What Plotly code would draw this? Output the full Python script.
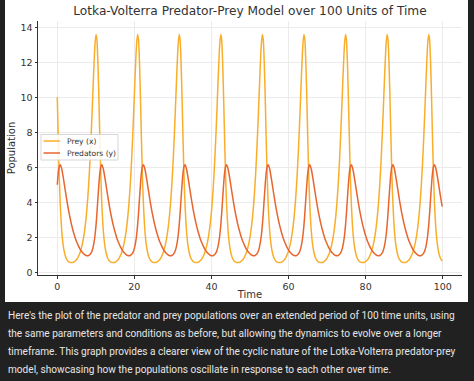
import plotly.graph_objects as go

# Sampling step in time units (one oscillation period of ~10.79 spans 43 samples)
TIME_STEP = 0.2509

# Prey population (x), one row per oscillation cycle
PREY = [
    10.00, 7.67, 5.60, 4.00, 2.88, 2.11, 1.59, 1.24, 1.00, 0.83, 0.72, 0.64, 0.59, 0.56, 0.55, 0.55, 0.56, 0.58, 0.62, 0.67, 0.73, 0.81, 0.92, 1.04, 1.20, 1.39, 1.63, 1.92, 2.27, 2.69, 3.22, 3.85, 4.61, 5.52, 6.58, 7.79, 9.13, 10.55, 11.92, 13.03, 13.59, 13.29, 12.00,
    10.00, 7.67, 5.60, 4.00, 2.88, 2.11, 1.59, 1.24, 1.00, 0.83, 0.72, 0.64, 0.59, 0.56, 0.55, 0.55, 0.56, 0.58, 0.62, 0.67, 0.73, 0.81, 0.92, 1.04, 1.20, 1.39, 1.63, 1.92, 2.27, 2.69, 3.22, 3.85, 4.61, 5.52, 6.58, 7.79, 9.13, 10.55, 11.92, 13.03, 13.59, 13.29, 12.00,
    10.00, 7.67, 5.60, 4.00, 2.88, 2.11, 1.59, 1.24, 1.00, 0.83, 0.72, 0.64, 0.59, 0.56, 0.55, 0.55, 0.56, 0.58, 0.62, 0.67, 0.73, 0.81, 0.92, 1.04, 1.20, 1.39, 1.63, 1.92, 2.27, 2.69, 3.22, 3.85, 4.61, 5.52, 6.58, 7.79, 9.13, 10.55, 11.92, 13.03, 13.59, 13.29, 12.00,
    10.00, 7.67, 5.60, 4.00, 2.88, 2.11, 1.59, 1.24, 1.00, 0.83, 0.72, 0.64, 0.59, 0.56, 0.55, 0.55, 0.56, 0.58, 0.62, 0.67, 0.73, 0.81, 0.92, 1.04, 1.20, 1.39, 1.63, 1.92, 2.27, 2.69, 3.22, 3.85, 4.61, 5.52, 6.58, 7.79, 9.13, 10.55, 11.92, 13.03, 13.59, 13.29, 12.00,
    10.00, 7.67, 5.60, 4.00, 2.88, 2.11, 1.59, 1.24, 1.00, 0.83, 0.72, 0.64, 0.59, 0.56, 0.55, 0.55, 0.56, 0.58, 0.62, 0.67, 0.73, 0.81, 0.92, 1.04, 1.20, 1.39, 1.63, 1.92, 2.27, 2.69, 3.22, 3.85, 4.61, 5.52, 6.58, 7.79, 9.13, 10.55, 11.92, 13.03, 13.59, 13.29, 12.00,
    10.00, 7.67, 5.60, 4.00, 2.88, 2.11, 1.59, 1.24, 1.00, 0.83, 0.72, 0.64, 0.59, 0.56, 0.55, 0.55, 0.56, 0.58, 0.62, 0.67, 0.73, 0.81, 0.92, 1.04, 1.20, 1.39, 1.63, 1.92, 2.27, 2.69, 3.22, 3.85, 4.61, 5.52, 6.58, 7.79, 9.13, 10.55, 11.92, 13.03, 13.59, 13.29, 12.00,
    10.00, 7.67, 5.60, 4.00, 2.88, 2.11, 1.59, 1.24, 1.00, 0.83, 0.72, 0.64, 0.59, 0.56, 0.55, 0.55, 0.56, 0.58, 0.62, 0.67, 0.73, 0.81, 0.92, 1.04, 1.20, 1.39, 1.63, 1.92, 2.27, 2.69, 3.22, 3.85, 4.61, 5.52, 6.58, 7.79, 9.13, 10.55, 11.92, 13.03, 13.59, 13.29, 12.00,
    10.00, 7.67, 5.60, 4.00, 2.88, 2.11, 1.59, 1.24, 1.00, 0.83, 0.72, 0.64, 0.59, 0.56, 0.55, 0.55, 0.56, 0.58, 0.62, 0.67, 0.73, 0.81, 0.92, 1.04, 1.20, 1.39, 1.63, 1.92, 2.27, 2.69, 3.22, 3.85, 4.61, 5.52, 6.58, 7.79, 9.13, 10.55, 11.92, 13.03, 13.59, 13.29, 12.00,
    10.00, 7.67, 5.60, 4.00, 2.88, 2.11, 1.59, 1.24, 1.00, 0.83, 0.72, 0.64, 0.59, 0.56, 0.55, 0.55, 0.56, 0.58, 0.62, 0.67, 0.73, 0.81, 0.92, 1.04, 1.20, 1.39, 1.63, 1.92, 2.27, 2.69, 3.22, 3.85, 4.61, 5.52, 6.58, 7.79, 9.13, 10.55, 11.92, 13.03, 13.59, 13.29, 12.00,
    10.00, 7.67, 5.60, 4.00, 2.88, 2.11, 1.59, 1.24, 1.00, 0.83, 0.72, 0.64,
]

# Predator population (y), one row per oscillation cycle
PREDATORS = [
    5.00, 5.66, 6.03, 6.14, 6.03, 5.80, 5.48, 5.13, 4.77, 4.42, 4.07, 3.75, 3.44, 3.16, 2.90, 2.66, 2.44, 2.24, 2.06, 1.89, 1.74, 1.61, 1.49, 1.38, 1.28, 1.20, 1.13, 1.07, 1.02, 0.98, 0.95, 0.94, 0.94, 0.97, 1.02, 1.10, 1.23, 1.42, 1.70, 2.10, 2.65, 3.36, 4.20,
    5.00, 5.66, 6.03, 6.14, 6.03, 5.80, 5.48, 5.13, 4.77, 4.42, 4.07, 3.75, 3.44, 3.16, 2.90, 2.66, 2.44, 2.24, 2.06, 1.89, 1.74, 1.61, 1.49, 1.38, 1.28, 1.20, 1.13, 1.07, 1.02, 0.98, 0.95, 0.94, 0.94, 0.97, 1.02, 1.10, 1.23, 1.42, 1.70, 2.10, 2.65, 3.36, 4.20,
    5.00, 5.66, 6.03, 6.14, 6.03, 5.80, 5.48, 5.13, 4.77, 4.42, 4.07, 3.75, 3.44, 3.16, 2.90, 2.66, 2.44, 2.24, 2.06, 1.89, 1.74, 1.61, 1.49, 1.38, 1.28, 1.20, 1.13, 1.07, 1.02, 0.98, 0.95, 0.94, 0.94, 0.97, 1.02, 1.10, 1.23, 1.42, 1.70, 2.10, 2.65, 3.36, 4.20,
    5.00, 5.66, 6.03, 6.14, 6.03, 5.80, 5.48, 5.13, 4.77, 4.42, 4.07, 3.75, 3.44, 3.16, 2.90, 2.66, 2.44, 2.24, 2.06, 1.89, 1.74, 1.61, 1.49, 1.38, 1.28, 1.20, 1.13, 1.07, 1.02, 0.98, 0.95, 0.94, 0.94, 0.97, 1.02, 1.10, 1.23, 1.42, 1.70, 2.10, 2.65, 3.36, 4.20,
    5.00, 5.66, 6.03, 6.14, 6.03, 5.80, 5.48, 5.13, 4.77, 4.42, 4.07, 3.75, 3.44, 3.16, 2.90, 2.66, 2.44, 2.24, 2.06, 1.89, 1.74, 1.61, 1.49, 1.38, 1.28, 1.20, 1.13, 1.07, 1.02, 0.98, 0.95, 0.94, 0.94, 0.97, 1.02, 1.10, 1.23, 1.42, 1.70, 2.10, 2.65, 3.36, 4.20,
    5.00, 5.66, 6.03, 6.14, 6.03, 5.80, 5.48, 5.13, 4.77, 4.42, 4.07, 3.75, 3.44, 3.16, 2.90, 2.66, 2.44, 2.24, 2.06, 1.89, 1.74, 1.61, 1.49, 1.38, 1.28, 1.20, 1.13, 1.07, 1.02, 0.98, 0.95, 0.94, 0.94, 0.97, 1.02, 1.10, 1.23, 1.42, 1.70, 2.10, 2.65, 3.36, 4.20,
    5.00, 5.66, 6.03, 6.14, 6.03, 5.80, 5.48, 5.13, 4.77, 4.42, 4.07, 3.75, 3.44, 3.16, 2.90, 2.66, 2.44, 2.24, 2.06, 1.89, 1.74, 1.61, 1.49, 1.38, 1.28, 1.20, 1.13, 1.07, 1.02, 0.98, 0.95, 0.94, 0.94, 0.97, 1.02, 1.10, 1.23, 1.42, 1.70, 2.10, 2.65, 3.36, 4.20,
    5.00, 5.66, 6.03, 6.14, 6.03, 5.80, 5.48, 5.13, 4.77, 4.42, 4.07, 3.75, 3.44, 3.16, 2.90, 2.66, 2.44, 2.24, 2.06, 1.89, 1.74, 1.61, 1.49, 1.38, 1.28, 1.20, 1.13, 1.07, 1.02, 0.98, 0.95, 0.94, 0.94, 0.97, 1.02, 1.10, 1.23, 1.42, 1.70, 2.10, 2.65, 3.36, 4.20,
    5.00, 5.66, 6.03, 6.14, 6.03, 5.80, 5.48, 5.13, 4.77, 4.42, 4.07, 3.75, 3.44, 3.16, 2.90, 2.66, 2.44, 2.24, 2.06, 1.89, 1.74, 1.61, 1.49, 1.38, 1.28, 1.20, 1.13, 1.07, 1.02, 0.98, 0.95, 0.94, 0.94, 0.97, 1.02, 1.10, 1.23, 1.42, 1.70, 2.10, 2.65, 3.36, 4.20,
    5.00, 5.66, 6.03, 6.14, 6.03, 5.80, 5.48, 5.13, 4.77, 4.42, 4.07, 3.75,
]

TIME = [i * TIME_STEP for i in range(len(PREY))]

SERIES_NAMES = ["Prey (x)", "Predators (y)"]
X_TICKS = [0, 20, 40, 60, 80, 100]
Y_TICKS = [0, 2, 4, 6, 8, 10, 12, 14]

TITLE = "Lotka-Volterra Predator-Prey Model over 100 Units of Time"
CAPTION_LINES = [
    "Here's the plot of the predator and prey populations over an extended period of 100 time units, using",
    "the same parameters and conditions as before, but allowing the dynamics to evolve over a longer",
    "timeframe. This graph provides a clearer view of the cyclic nature of the Lotka-Volterra predator-prey",
    "model, showcasing how the populations oscillate in response to each other over time.",
]

PREY_COLOR = "#F9AE2B"
PRED_COLOR = "#E8652E"
INK = "#333333"
GRID = "#ebebeb"
FONT = "DejaVu Sans"

fig = go.Figure()
fig.add_trace(go.Scatter(x=TIME, y=PREY, name=SERIES_NAMES[0], mode="lines", showlegend=False,
                         line=dict(color=PREY_COLOR, width=1.5, shape="spline", smoothing=0.6)))
fig.add_trace(go.Scatter(x=TIME, y=PREDATORS, name=SERIES_NAMES[1], mode="lines", showlegend=False,
                         line=dict(color=PRED_COLOR, width=1.5, shape="spline", smoothing=0.6)))

W, H = 474, 381
ML, MR, MT, MB = 38, 12, 21, 106
PW, PH = W - ML - MR, H - MT - MB


def px_x(p):
    return (p - ML) / PW


def px_y(p):
    return (H - MB - p) / PH


# white card behind the chart (screenshot look)
fig.add_shape(type="rect", xref="paper", yref="paper",
              x0=px_x(5), x1=px_x(468), y0=px_y(302), y1=px_y(-2),
              fillcolor="white", line=dict(width=0), layer="below")

# compact matplotlib-style legend
fig.add_shape(type="rect", xref="paper", yref="paper",
              x0=px_x(41), x1=px_x(118), y0=px_y(160), y1=px_y(134.5),
              fillcolor="rgba(255,255,255,0.85)", line=dict(color="#d6d6d6", width=1), layer="above")
LEGEND_ROWS = [(141, PREY_COLOR), (153, PRED_COLOR)]
for (row_y, color), name in zip(LEGEND_ROWS, SERIES_NAMES):
    fig.add_shape(type="line", xref="paper", yref="paper",
                  x0=px_x(43.5), x1=px_x(60), y0=px_y(row_y), y1=px_y(row_y),
                  line=dict(color=color, width=1.5), layer="above")
    fig.add_annotation(text=name, xref="paper", yref="paper",
                       x=px_x(65), y=px_y(row_y), xanchor="left", yanchor="middle",
                       showarrow=False, font=dict(family=FONT, size=7.6, color=INK))

for i, line in enumerate(CAPTION_LINES):
    fig.add_annotation(text=line, xref="paper", yref="paper",
                       x=px_x(6), y=px_y(315 + i * 18), xanchor="left", yanchor="middle",
                       showarrow=False, font=dict(family="Roboto", size=10.1, color="#e6e6e6"))

axis_common = dict(showgrid=True, gridcolor=GRID, gridwidth=1, zeroline=False,
                   showline=True, linecolor=INK, linewidth=1, ticks="outside",
                   ticklen=2.5, tickcolor=INK, tickwidth=1, automargin=False,
                   tickfont=dict(family=FONT, size=9.5, color=INK))

fig.update_layout(
    width=W, height=H,
    margin=dict(l=ML, r=MR, t=MT, b=MB, autoexpand=False),
    paper_bgcolor="#212121",
    plot_bgcolor="white",
    title=dict(text=TITLE, x=0.5, xref="paper", y=1 - 6 / H, yanchor="top",
               font=dict(family=FONT, size=12.2, color=INK)),
    xaxis=dict(range=[-5, 105], tickvals=X_TICKS,
               title=dict(text="Time", font=dict(family=FONT, size=10, color=INK), standoff=0),
               **axis_common),
    yaxis=dict(range=[-0.16, 14.36], tickvals=Y_TICKS,
               title=dict(text="Population", font=dict(family=FONT, size=10, color=INK), standoff=3),
               **axis_common),
    showlegend=False,
)

fig.write_html("out.html", config={"displayModeBar": False},
               post_script="document.body.style.margin='0';document.body.style.overflow='hidden';")
